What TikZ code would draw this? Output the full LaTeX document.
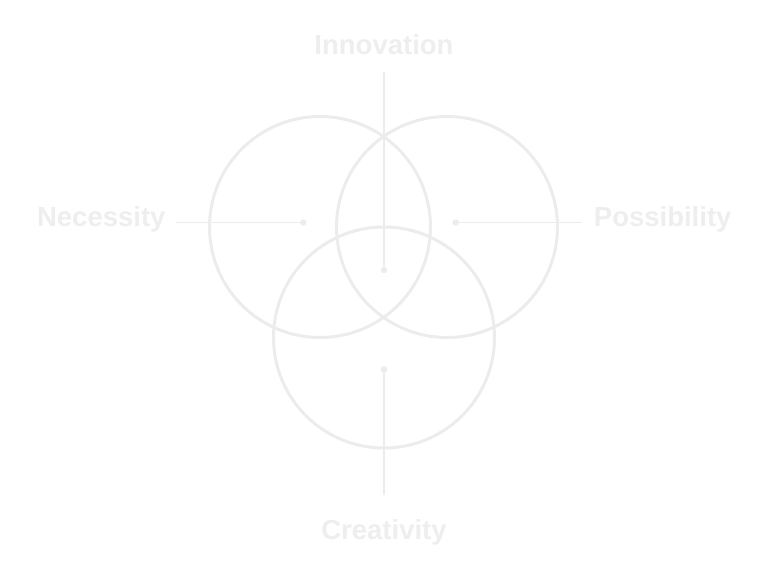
\documentclass[tikz,border=0pt]{standalone}
\usepackage{fontspec}
\setmainfont{Liberation Sans}
\usetikzlibrary{positioning}
\definecolor{ringgray}{RGB}{236,236,236}
\definecolor{labelgray}{RGB}{238,238,238}
\tikzset{
  ring/.style={draw=ringgray, line width=3pt},
  link/.style={draw=ringgray, line width=1.5pt},
  dot/.style={circle, fill=ringgray, inner sep=0pt, minimum size=6.5pt},
  setlabel/.style={text=labelgray, font=\bfseries\fontsize{27.5}{30}\selectfont, inner sep=0pt, text height=20pt, text depth=11.6pt}
}

\begin{document}
\begin{tikzpicture}[x=1pt, y=-1pt]
  \useasboundingbox (0,0) rectangle (768,576);

  % Circles
  \draw[ring] (320,227) circle[radius=110.5pt];
  \draw[ring] (447,227) circle[radius=110.5pt];
  \draw[ring] (384,337.5) circle[radius=110.5pt];

  % Dots
  \node[dot] (innodot) at (384,270) {};
  \node[dot] (necsdot) at (303.3,222.5) {};
  \node[dot] (possdot) at (455.7,222.5) {};
  \node[dot] (creadot) at (384,369.3) {};

  % Innovation
  \coordinate (innoend) at (384,71.7);
  \node[setlabel, above=5.8pt of innoend] (inno) {Innovation};
  \draw[link] (innoend) -- (innodot.center);

  % Necessity
  \coordinate (necsend) at (175.7,222.5);
  \node[setlabel, left=10pt of necsend] (necs) {Necessity};
  \draw[link] (necsend) -- (necsdot.center);

  % Possibility
  \coordinate (possend) at (581.7,222.5);
  \node[setlabel, right=12pt of possend] (poss) {Possibility};
  \draw[link] (possend) -- (possdot.center);

  % Creativity
  \coordinate (creaend) at (384,495);
  \node[setlabel, below=24.3pt of creaend] (crea) {Creativity};
  \draw[link] (creaend) -- (creadot.center);
\end{tikzpicture}
\end{document}
